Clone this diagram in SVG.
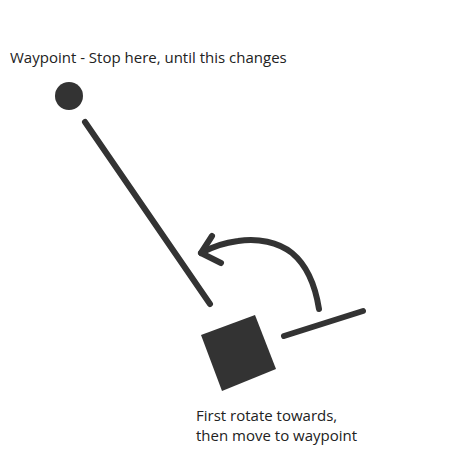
<svg xmlns="http://www.w3.org/2000/svg" width="474" height="474" viewBox="0 0 474 474">
<style>
.t{font-family:"Open Sans","Liberation Sans",sans-serif;font-size:15px;fill:#222}
.s{stroke:#333;stroke-width:6;stroke-linecap:round;fill:none;stroke-linejoin:round}
</style>
<rect width="474" height="474" fill="#fff"/>
<g id="waypoint">
<circle cx="69" cy="96" r="14" fill="#333"/>
<text class="t" x="10" y="63">Waypoint - Stop here, until this changes</text>
</g>
<g id="robot">
<polygon points="201,335 255,315 276,369 222,391" fill="#333"/>
<text class="t" x="196" y="421">First rotate towards,</text>
<text class="t" x="196" y="441">then move to waypoint</text>
</g>
<g id="connectors">
<line class="s" x1="85" y1="122" x2="210" y2="304"/>
<line class="s" x1="284" y1="336" x2="363" y2="311"/>
<path class="s" d="M319,309 C316,290 310,268 292,253 C278,242 258,238 238,241 C222,243 210,248 201,253"/>
<path class="s" d="M212,236 L201,253 L221,263"/>
</g>
</svg>
